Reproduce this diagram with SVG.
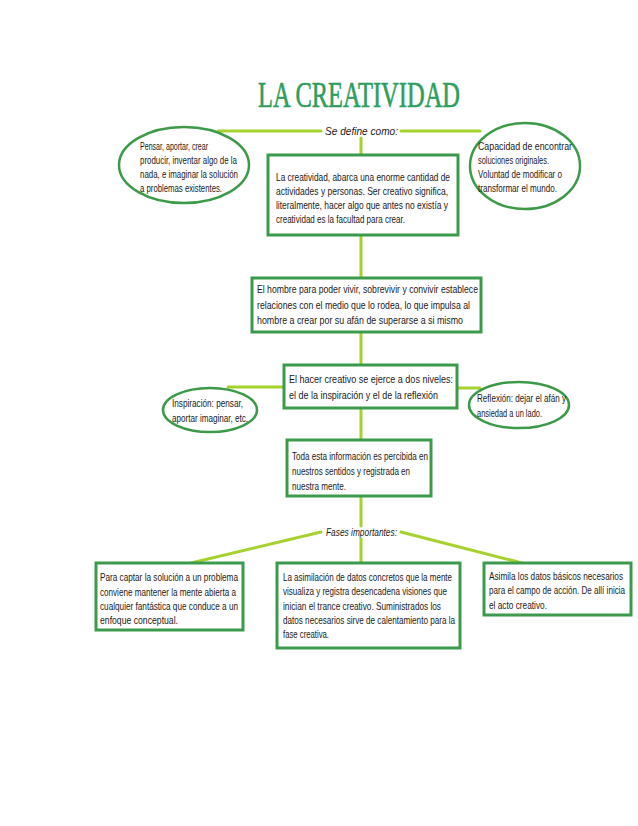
<svg xmlns="http://www.w3.org/2000/svg" width="638" height="826" viewBox="0 0 638 826">
<defs>
<style>
.bg{fill:#ffffff}
.ln{stroke:#a6d22e;stroke-width:3;fill:none;stroke-linecap:round}
.bx{fill:#ffffff;stroke:#3c9a4c;stroke-width:3}
.el{fill:#ffffff;stroke:#3c9a48;stroke-width:2.5}
.t{font-family:"Liberation Sans",Arial,sans-serif;font-size:11.5px;fill:#1a1a1a}
.lb{font-family:"Liberation Sans",Arial,sans-serif;font-size:11px;font-style:italic;fill:#1a1a1a}
.title{font-family:"Liberation Serif","DejaVu Serif",serif;font-size:35px;fill:#2e9e5c;stroke:#2e9e5c;stroke-width:0.6}
</style>
</defs>
<rect class="bg" x="0" y="0" width="638" height="826"/>
<text class="title" x="258" y="107" textLength="202" lengthAdjust="spacingAndGlyphs">LA CREATIVIDAD</text>
<g id="connectors">
<line class="ln" x1="218" y1="131" x2="321" y2="131"/>
<line class="ln" x1="401" y1="131" x2="480" y2="131"/>
<line class="ln" x1="361" y1="138" x2="361" y2="155"/>
<line class="ln" x1="361" y1="235" x2="361" y2="278"/>
<line class="ln" x1="361" y1="332" x2="361" y2="365"/>
<line class="ln" x1="228" y1="387" x2="284" y2="387"/>
<line class="ln" x1="457" y1="388" x2="480" y2="388"/>
<line class="ln" x1="361" y1="408" x2="361" y2="440"/>
<line class="ln" x1="361" y1="496" x2="361" y2="526"/>
<line class="ln" x1="361" y1="539" x2="361" y2="563"/>
<line class="ln" x1="321" y1="532" x2="191" y2="563"/>
<line class="ln" x1="401" y1="532" x2="522" y2="563"/>
<text class="lb" x="325" y="135" textLength="73" lengthAdjust="spacingAndGlyphs">Se define como:</text>
<text class="lb" x="326" y="536" textLength="71" lengthAdjust="spacingAndGlyphs">Fases importantes:</text>
</g>
<g id="ellipse-pensar">
<ellipse class="el" cx="184" cy="165" rx="65" ry="38"/>
<text class="t" x="140" y="150" textLength="68" lengthAdjust="spacingAndGlyphs">Pensar, aportar, crear</text>
<text class="t" x="140" y="164" textLength="97" lengthAdjust="spacingAndGlyphs">producir, inventar algo de la</text>
<text class="t" x="140" y="178" textLength="98" lengthAdjust="spacingAndGlyphs">nada, e imaginar la solución</text>
<text class="t" x="140" y="192" textLength="82" lengthAdjust="spacingAndGlyphs">a problemas existentes.</text>
</g>
<g id="ellipse-capacidad">
<ellipse class="el" cx="525" cy="166" rx="55" ry="43"/>
<text class="t" x="478" y="150" textLength="94" lengthAdjust="spacingAndGlyphs">Capacidad de encontrar</text>
<text class="t" x="478" y="164" textLength="71" lengthAdjust="spacingAndGlyphs">soluciones originales.</text>
<text class="t" x="478" y="178" textLength="84" lengthAdjust="spacingAndGlyphs">Voluntad de modificar o</text>
<text class="t" x="478" y="192" textLength="79" lengthAdjust="spacingAndGlyphs">transformar el mundo.</text>
</g>
<g id="box-definicion">
<rect class="bx" x="268" y="155" width="190" height="80"/>
<text class="t" x="276" y="181" textLength="174" lengthAdjust="spacingAndGlyphs">La creatividad, abarca una enorme cantidad de</text>
<text class="t" x="276" y="195" textLength="172" lengthAdjust="spacingAndGlyphs">actividades y personas. Ser creativo significa,</text>
<text class="t" x="276" y="209" textLength="172" lengthAdjust="spacingAndGlyphs">literalmente, hacer algo que antes no existía y</text>
<text class="t" x="276" y="223" textLength="129" lengthAdjust="spacingAndGlyphs">creatividad es la facultad para crear.</text>
</g>
<g id="box-hombre">
<rect class="bx" x="252" y="278" width="229" height="54"/>
<text class="t" x="257" y="293" textLength="221" lengthAdjust="spacingAndGlyphs">El hombre para poder vivir, sobrevivir y convivir establece</text>
<text class="t" x="257" y="309" textLength="213" lengthAdjust="spacingAndGlyphs">relaciones con el medio que lo rodea, lo que impulsa al</text>
<text class="t" x="257" y="324" textLength="206" lengthAdjust="spacingAndGlyphs">hombre a crear por su afán de superarse a si mismo</text>
</g>
<g id="box-niveles">
<rect class="bx" x="284" y="365" width="173" height="43"/>
<text class="t" x="289" y="383" textLength="164" lengthAdjust="spacingAndGlyphs">El hacer creativo se ejerce a dos niveles:</text>
<text class="t" x="289" y="399" textLength="149" lengthAdjust="spacingAndGlyphs">el de la inspiración y el de la reflexión</text>
</g>
<g id="ellipse-inspiracion">
<ellipse class="el" cx="210" cy="410" rx="47" ry="22"/>
<text class="t" x="172" y="407" textLength="71" lengthAdjust="spacingAndGlyphs">Inspiración: pensar,</text>
<text class="t" x="172" y="422" textLength="76" lengthAdjust="spacingAndGlyphs">aportar imaginar, etc.</text>
</g>
<g id="ellipse-reflexion">
<ellipse class="el" cx="519" cy="405" rx="50" ry="23"/>
<text class="t" x="477" y="402" textLength="89" lengthAdjust="spacingAndGlyphs">Reflexión: dejar el afán y</text>
<text class="t" x="477" y="417" textLength="65" lengthAdjust="spacingAndGlyphs">ansiedad a un lado.</text>
</g>
<g id="box-informacion">
<rect class="bx" x="287" y="440" width="144" height="56"/>
<text class="t" x="292" y="460" textLength="136" lengthAdjust="spacingAndGlyphs">Toda esta información es percibida en</text>
<text class="t" x="292" y="475" textLength="118" lengthAdjust="spacingAndGlyphs">nuestros sentidos y registrada en</text>
<text class="t" x="292" y="490" textLength="54" lengthAdjust="spacingAndGlyphs">nuestra mente.</text>
</g>
<g id="box-fase1">
<rect class="bx" x="96" y="563" width="147" height="67"/>
<text class="t" x="100" y="581" textLength="138" lengthAdjust="spacingAndGlyphs">Para captar la solución a un problema</text>
<text class="t" x="100" y="596" textLength="136" lengthAdjust="spacingAndGlyphs">conviene mantener la mente abierta a</text>
<text class="t" x="100" y="610" textLength="138" lengthAdjust="spacingAndGlyphs">cualquier fantástica  que conduce a un</text>
<text class="t" x="100" y="624" textLength="78" lengthAdjust="spacingAndGlyphs">enfoque conceptual.</text>
</g>
<g id="box-fase2">
<rect class="bx" x="277" y="563" width="183" height="85"/>
<text class="t" x="283" y="581" textLength="169" lengthAdjust="spacingAndGlyphs">La asimilación de datos concretos que la mente</text>
<text class="t" x="283" y="595" textLength="164" lengthAdjust="spacingAndGlyphs">visualiza y registra desencadena visiones que</text>
<text class="t" x="283" y="610" textLength="158" lengthAdjust="spacingAndGlyphs">inician el trance creativo. Suministrados los</text>
<text class="t" x="283" y="624" textLength="172" lengthAdjust="spacingAndGlyphs">datos necesarios sirve de calentamiento para la</text>
<text class="t" x="283" y="638" textLength="46" lengthAdjust="spacingAndGlyphs">fase creativa.</text>
</g>
<g id="box-fase3">
<rect class="bx" x="484" y="563" width="147" height="52"/>
<text class="t" x="489" y="580" textLength="134" lengthAdjust="spacingAndGlyphs">Asimila los datos básicos necesarios</text>
<text class="t" x="489" y="594" textLength="136" lengthAdjust="spacingAndGlyphs">para el campo de acción. De allí inicia</text>
<text class="t" x="489" y="609" textLength="58" lengthAdjust="spacingAndGlyphs">el acto creativo.</text>
</g>
</svg>
